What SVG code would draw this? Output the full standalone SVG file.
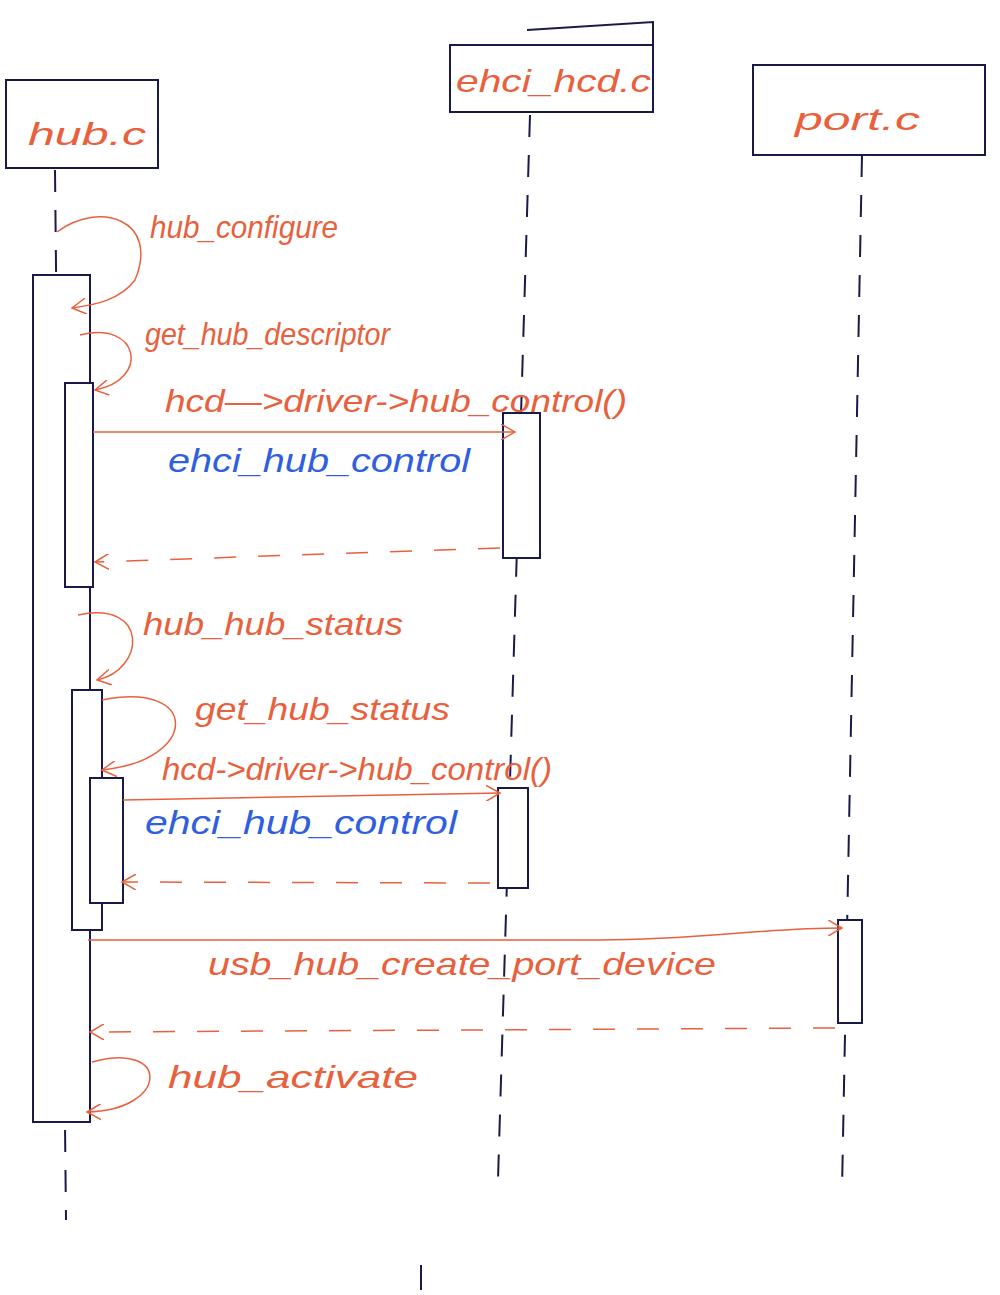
<svg xmlns="http://www.w3.org/2000/svg" width="1000" height="1295" viewBox="0 0 1000 1295">
<style>
.box{fill:none;stroke:#1a1a4a;stroke-width:2}
.act{fill:#fff;stroke:#1a1a4a;stroke-width:2}
.life{stroke:#1a1a4a;stroke-width:2;stroke-dasharray:22 18;fill:none}
.msg{stroke:#e8603c;stroke-width:1.5;fill:none}
.ret{stroke:#e8603c;stroke-width:1.5;fill:none;stroke-dasharray:22 22}
.t{font-family:"Liberation Sans",sans-serif;font-style:italic;fill:#e8603c;font-size:32px}
.b{font-family:"Liberation Sans",sans-serif;font-style:italic;fill:#2f5fe0;font-size:34px}
</style>
<defs><marker id="a" markerWidth="16" markerHeight="16" refX="14" refY="8" orient="auto" markerUnits="userSpaceOnUse"><path d="M0,0 L14,8 L0,16" fill="none" stroke="#e8603c" stroke-width="1.5"/></marker></defs>
<g id="lifelines">
<path class="life" d="M55,170 L66,1220"/>
<path class="life" d="M530,115 L498,1180"/>
<path class="life" d="M862,155 L842,1190"/>
<path d="M421,1265 L421,1290" stroke="#1a1a4a" stroke-width="2"/>
</g>
<g id="hub"><rect class="box" x="6" y="80" width="152" height="88"/><text class="t" x="28" y="145" font-size="44" textLength="118" lengthAdjust="spacingAndGlyphs">hub.c</text></g>
<g id="ehci"><rect class="box" x="450" y="45" width="203" height="67"/><path class="box" d="M527,30 L653,22 L653,45"/><text class="t" x="456" y="92" font-size="44" textLength="195" lengthAdjust="spacingAndGlyphs">ehci_hcd.c</text></g>
<g id="port"><rect class="box" x="753" y="65" width="232" height="90"/><text class="t" x="795" y="130" font-size="44" textLength="125" lengthAdjust="spacingAndGlyphs">port.c</text></g>
<g id="activations">
<rect class="act" x="33" y="275" width="57" height="847"/>
<rect class="act" x="65" y="383" width="28" height="204"/>
<rect class="act" x="72" y="690" width="30" height="240"/>
<rect class="act" x="90" y="778" width="33" height="125"/>
<rect class="act" x="503" y="413" width="37" height="145"/>
<rect class="act" x="498" y="788" width="30" height="100"/>
<rect class="act" x="838" y="920" width="24" height="103"/>
</g>
<g id="connectors">
<path class="msg" d="M57,232 C100,200 160,220 135,280 C120,300 95,305 72,308" marker-end="url(#a)"/>
<path class="msg" d="M80,335 C140,320 150,380 95,390" marker-end="url(#a)"/>
<path class="msg" d="M93,432 L515,432" marker-end="url(#a)"/>
<path class="ret" d="M500,548 L95,562" marker-end="url(#a)"/>
<path class="msg" d="M78,615 C150,600 145,670 97,680" marker-end="url(#a)"/>
<path class="msg" d="M102,700 C200,680 200,760 102,770" marker-end="url(#a)"/>
<path class="msg" d="M123,800 L500,793" marker-end="url(#a)"/>
<path class="ret" d="M490,883 L122,882" marker-end="url(#a)"/>
<path class="msg" d="M88,940 L600,940 C700,940 760,928 842,928" marker-end="url(#a)"/>
<path class="ret" d="M835,1028 L90,1032" marker-end="url(#a)"/>
<path class="msg" d="M92,1062 C170,1040 170,1110 87,1112" marker-end="url(#a)"/>
</g>
<g id="labels">
<text class="t" x="150" y="238" textLength="188" lengthAdjust="spacingAndGlyphs">hub_configure</text>
<text class="t" x="145" y="345" textLength="245" lengthAdjust="spacingAndGlyphs">get_hub_descriptor</text>
<text class="t" x="165" y="412" textLength="462" lengthAdjust="spacingAndGlyphs">hcd—&gt;driver-&gt;hub_control()</text>
<text class="b" x="168" y="472" textLength="302" lengthAdjust="spacingAndGlyphs">ehci_hub_control</text>
<text class="t" x="143" y="635" textLength="260" lengthAdjust="spacingAndGlyphs">hub_hub_status</text>
<text class="t" x="195" y="720" textLength="255" lengthAdjust="spacingAndGlyphs">get_hub_status</text>
<text class="t" x="162" y="780" textLength="390" lengthAdjust="spacingAndGlyphs">hcd-&gt;driver-&gt;hub_control()</text>
<text class="b" x="145" y="834" textLength="312" lengthAdjust="spacingAndGlyphs">ehci_hub_control</text>
<text class="t" x="208" y="975" textLength="508" lengthAdjust="spacingAndGlyphs">usb_hub_create_port_device</text>
<text class="t" x="168" y="1088" textLength="250" lengthAdjust="spacingAndGlyphs">hub_activate</text>
</g>
</svg>
